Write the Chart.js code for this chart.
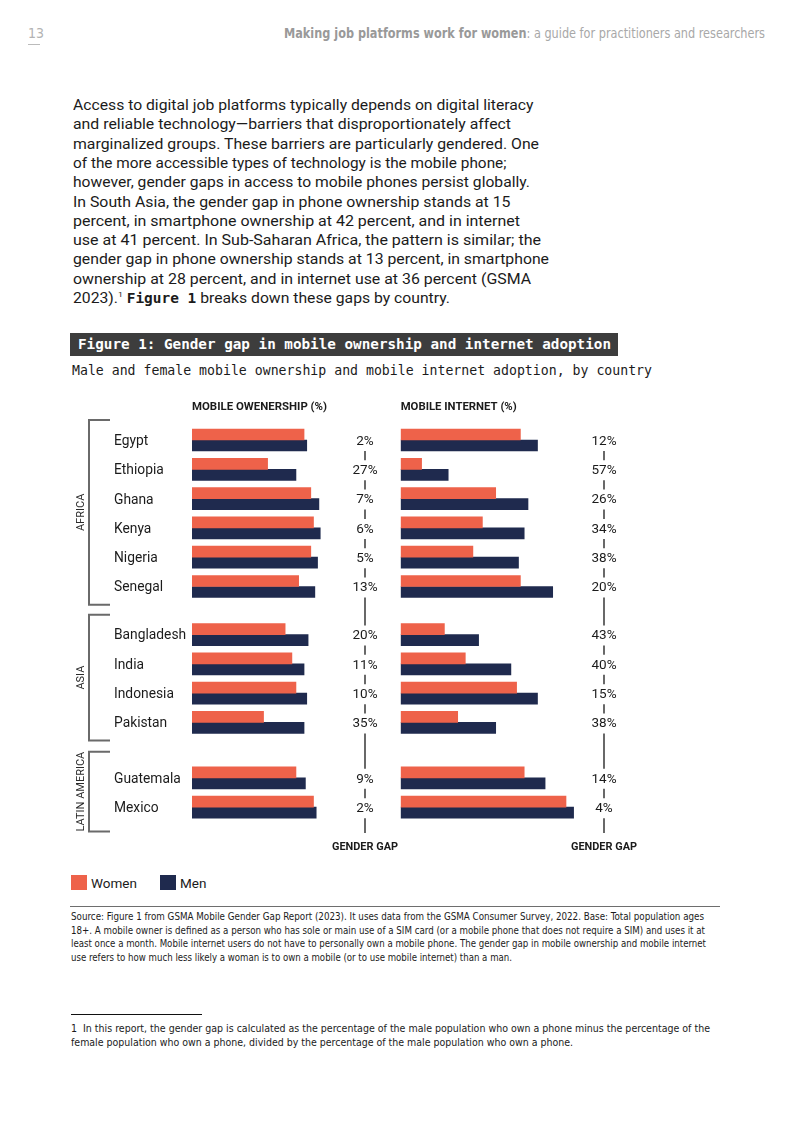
<!DOCTYPE html>
<html>
<head>
<meta charset="utf-8">
<title>Figure 1: Gender gap in mobile ownership and internet adoption</title>
<script src="https://cdn.jsdelivr.net/npm/chart.js@4.4.1/dist/chart.umd.min.js"></script>
<style>
html,body{margin:0;padding:0;background:#fff;}
#page{position:relative;width:793px;height:1121px;overflow:hidden;background:#fff;color:#1b1b1b;font-family:Roboto,"Noto Sans",sans-serif;}
.t{position:absolute;white-space:nowrap;transform-origin:0 50%;}
.cond{font-family:"Liberation Sans Narrow","DejaVu Sans Condensed","Roboto",sans-serif;font-stretch:condensed;}
.mono{font-family:"DejaVu Sans Mono","Liberation Mono",monospace;}
.body{left:72.5px;font-size:14.6px;line-height:20px;height:20px;color:#1b1b1b;}
.body b.mono{font-size:13.4px;}
.body sup{font-size:8px;vertical-align:6px;line-height:0;}
.src{left:71px;font-size:11px;line-height:14px;height:14px;color:#1b1b1b;}
canvas{position:absolute;}
.sw{position:absolute;width:16px;height:15px;}
</style>
</head>
<body>
<div id="page">
  <!-- header -->
  <div class="t cond" style="left:28px;top:24px;font-size:14px;line-height:18px;color:#b3b3b3;">13</div>
  <div style="position:absolute;left:28px;top:44px;width:12px;height:1px;background:#bbb;"></div>
  <div class="t cond" data-w="481" style="left:284px;top:24px;font-size:14px;line-height:18px;color:#a8a8a8;"><b style="color:#999;">Making job platforms work for women</b>: a guide for practitioners and researchers</div>

  <!-- body text -->
  <div class="t body" data-w="460.5" style="top:95px;">Access to digital job platforms typically depends on digital literacy</div>
  <div class="t body" data-w="438" style="top:114.3px;">and reliable technology—barriers that disproportionately affect</div>
  <div class="t body" data-w="466" style="top:133.6px;">marginalized groups. These barriers are particularly gendered. One</div>
  <div class="t body" data-w="433.5" style="top:152.9px;">of the more accessible types of technology is the mobile phone;</div>
  <div class="t body" data-w="457" style="top:172.2px;">however, gender gaps in access to mobile phones persist globally.</div>
  <div class="t body" data-w="437.5" style="top:191.5px;">In South Asia, the gender gap in phone ownership stands at 15</div>
  <div class="t body" data-w="447" style="top:210.8px;">percent, in smartphone ownership at 42 percent, and in internet</div>
  <div class="t body" data-w="468" style="top:230.1px;">use at 41 percent. In Sub-Saharan Africa, the pattern is similar; the</div>
  <div class="t body" data-w="476" style="top:249.4px;">gender gap in phone ownership stands at 13 percent, in smartphone</div>
  <div class="t body" data-w="458" style="top:268.7px;">ownership at 28 percent, and in internet use at 36 percent (GSMA</div>
  <div class="t body" data-w="377" style="top:288px;">2023).<sup>1</sup> <b class="mono">Figure 1</b> breaks down these gaps by country.</div>

  <!-- figure title -->
  <div style="position:absolute;left:70px;top:333px;width:548px;height:23px;background:#3d3d3d;"></div>
  <div class="t mono" data-w="533" style="left:78px;top:333px;height:23px;line-height:23px;font-size:14.3px;font-weight:bold;color:#fff;">Figure 1: Gender gap in mobile ownership and internet adoption</div>
  <div class="t mono" data-w="580" style="left:72px;top:363px;height:16px;line-height:16px;font-size:13.2px;color:#1b1b1b;">Male and female mobile ownership and mobile internet adoption, by country</div>

  <!-- charts -->
  <canvas id="ownChart" width="350" height="465" style="left:60px;top:395px;"></canvas>
  <canvas id="netChart" width="275" height="465" style="left:390px;top:395px;"></canvas>

  <!-- legend -->
  <div class="sw" id="swW" style="left:71px;top:875px;"></div>
  <div class="t" id="lgW" style="left:91px;top:874px;font-size:13.5px;line-height:18px;"></div>
  <div class="sw" id="swM" style="left:160px;top:875px;"></div>
  <div class="t" id="lgM" style="left:180px;top:874px;font-size:13.5px;line-height:18px;"></div>

  <!-- source -->
  <div style="position:absolute;left:70px;top:905.5px;width:650px;height:1.5px;background:#6e6e6e;"></div>
  <div class="t src cond" data-w="633" style="top:910px;">Source: Figure 1 from GSMA Mobile Gender Gap Report (2023). It uses data from the GSMA Consumer Survey, 2022. Base: Total population ages</div>
  <div class="t src cond" data-w="634" style="top:923.5px;">18+. A mobile owner is defined as a person who has sole or main use of a SIM card (or a mobile phone that does not require a SIM) and uses it at</div>
  <div class="t src cond" data-w="635" style="top:937px;">least once a month. Mobile internet users do not have to personally own a mobile phone. The gender gap in mobile ownership and mobile internet</div>
  <div class="t src cond" data-w="441" style="top:950.5px;">use refers to how much less likely a woman is to own a mobile (or to use mobile internet) than a man.</div>

  <!-- footnote -->
  <div style="position:absolute;left:71px;top:1013.5px;width:131px;height:1.5px;background:#111;"></div>
  <div class="t src cond" data-w="639" style="top:1022px;">1&nbsp; In this report, the gender gap is calculated as the percentage of the male population who own a phone minus the percentage of the</div>
  <div class="t src cond" data-w="502" style="top:1035.5px;">female population who own a phone, divided by the percentage of the male population who own a phone.</div>
</div>

<script>
// ---------------- DATA ----------------
const countries = ['Egypt','Ethiopia','Ghana','Kenya','Nigeria','Senegal','Bangladesh','India','Indonesia','Pakistan','Guatemala','Mexico'];
const countryRegion = ['AFRICA','AFRICA','AFRICA','AFRICA','AFRICA','AFRICA','ASIA','ASIA','ASIA','ASIA','LATIN AMERICA','LATIN AMERICA'];
const regionNames = ['AFRICA','ASIA','LATIN AMERICA'];
const seriesNames = ['Women','Men'];
const ownershipWomen = [83,56,88,90,88,79,69,74,77,53,77,90];
const ownershipMen   = [85,77,94,95,93,91,86,83,85,83,84,92];
const internetWomen  = [63,11,50,43,38,63,23,34,61,30,65,87];
const internetMen    = [72,25,67,65,62,80,41,58,72,50,76,91];
const ownershipGap   = [2,27,7,6,5,13,20,11,10,35,9,2];
const internetGap    = [12,57,26,34,38,20,43,40,15,38,14,4];
const panelTitles = ['MOBILE OWENERSHIP (%)','MOBILE INTERNET (%)'];
const gapTitle = 'GENDER GAP';

// ---------------- LAYOUT / STYLE ----------------
const WOMEN_COLOR = '#EE624A';
const MEN_COLOR = '#1F2A4E';
const TEXT = '#1b1b1b';
const PITCH = 29.3;                 // px per row
const REGION_GAP = [0, 0.64, 0.89]; // extra space before each region (rows)
const CANVAS_TOP = 395, CANVAS_H = 465;
const FIRST_ROW_Y = 440 - CANVAS_TOP;

// row index positions derived from region grouping
const rowPos = [];
(function(){
  let p = 0;
  countries.forEach((c, i) => {
    if (i > 0) {
      p += 1;
      if (countryRegion[i] !== countryRegion[i-1]) p += REGION_GAP[regionNames.indexOf(countryRegion[i])];
    }
    rowPos.push(p);
  });
})();
const Y_MIN = -1, Y_MAX = rowPos[rowPos.length-1] + 1;
const PAD_TOP = FIRST_ROW_Y - PITCH * (0 - Y_MIN);
const PAD_BOTTOM = CANVAS_H - PAD_TOP - PITCH * (Y_MAX - Y_MIN);

function fillFit(ctx, text, x, y, w) {
  const m = ctx.measureText(text).width;
  ctx.save();
  ctx.translate(x, y);
  ctx.scale(w / m, 1);
  ctx.fillText(text, 0, 0);
  ctx.restore();
}

const overlayPlugin = {
  id: 'overlay',
  afterDraw(chart, args, o) {
    const ctx = chart.ctx, ys = chart.scales.y, area = chart.chartArea;
    const py = rowPos.map(v => ys.getPixelForValue(v));
    ctx.save();
    // panel heading
    ctx.fillStyle = TEXT;
    ctx.font = 'bold 11px Roboto';
    ctx.textAlign = 'left'; ctx.textBaseline = 'middle';
    fillFit(ctx, o.title, area.left, 407.5 - CANVAS_TOP, o.titleW);
    // gender gap column
    ctx.strokeStyle = '#2a2a2a'; ctx.lineWidth = 1.4;
    const h = 10;
    ctx.beginPath();
    for (let i = 0; i < py.length; i++) {
      const y1 = py[i] + h + 1;
      const y2 = (i < py.length - 1) ? py[i+1] - h + 1 : 833 - CANVAS_TOP;
      ctx.moveTo(o.gapX, y1); ctx.lineTo(o.gapX, y2);
    }
    ctx.stroke();
    ctx.font = '13.5px Roboto';
    ctx.textAlign = 'center';
    o.gaps.forEach((g, i) => ctx.fillText(g + '%', o.gapX, py[i] + 1.5));
    ctx.font = 'bold 11px Roboto';
    fillFit(ctx, gapTitle, o.gapX, 847.5 - CANVAS_TOP, 66);
    // region brackets
    if (o.brackets) {
      const bx = 29;
      ctx.font = '11px Roboto';
      regionNames.forEach(r => {
        const idx = countryRegion.map((cr, i) => cr === r ? i : -1).filter(i => i >= 0);
        let top = py[idx[0]] - 0.68 * PITCH;
        let bottom = py[idx[idx.length-1]] + 0.62 * PITCH;
        const w = ctx.measureText(r).width;
        if (bottom - top < w) { const e = (w - (bottom - top)) / 2; top -= e; bottom += e; }
        ctx.strokeStyle = '#6a6a6a'; ctx.lineWidth = 2;
        ctx.beginPath();
        ctx.moveTo(bx + 21, top); ctx.lineTo(bx, top); ctx.lineTo(bx, bottom); ctx.lineTo(bx + 21, bottom);
        ctx.stroke();
        ctx.save();
        ctx.translate(bx - 8, (top + bottom) / 2);
        ctx.rotate(-Math.PI / 2);
        ctx.fillStyle = '#2a2a2a';
        ctx.textAlign = 'center'; ctx.textBaseline = 'middle';
        ctx.fillText(r, 0, 0);
        ctx.restore();
      });
    }
    ctx.restore();
  }
};

function makeChart(id, women, men, o) {
  return new Chart(document.getElementById(id), {
    type: 'bar',
    data: {
      datasets: [
        { label: seriesNames[0], data: women.map((v, i) => ({ x: v, y: rowPos[i] })), backgroundColor: WOMEN_COLOR, borderWidth: 0, barThickness: 11 },
        { label: seriesNames[1], data: men.map((v, i) => ({ x: v, y: rowPos[i] })), backgroundColor: MEN_COLOR, borderWidth: 0, barThickness: 11 }
      ]
    },
    options: {
      indexAxis: 'y',
      responsive: false,
      animation: false,
      events: [],
      layout: { padding: { left: o.padLeft, right: o.padRight, top: PAD_TOP, bottom: PAD_BOTTOM } },
      plugins: {
        legend: { display: false },
        tooltip: { enabled: false },
        overlay: o
      },
      scales: {
        x: { type: 'linear', min: 0, max: 100, display: false },
        y: {
          type: 'linear', min: Y_MIN, max: Y_MAX, reverse: true, offset: false,
          display: o.showLabels,
          grid: { display: false }, border: { display: false },
          afterBuildTicks: s => { s.ticks = rowPos.map(v => ({ value: v })); },
          afterFit: s => { s.width = o.axisWidth; },
          ticks: {
            autoSkip: false, crossAlign: 'far', padding: 0, color: TEXT, labelOffset: 1.5,
            font: { family: 'Roboto', size: 13.8 },
            callback: (v, i) => countries[i]
          }
        }
      }
    },
    plugins: [overlayPlugin]
  });
}

makeChart('ownChart', ownershipWomen, ownershipMen, {
  padLeft: 54, padRight: 83, axisWidth: 78, showLabels: true,
  title: panelTitles[0], titleW: 135, gaps: ownershipGap, gapX: 305, brackets: true
});
makeChart('netChart', internetWomen, internetMen, {
  padLeft: 10.7, padRight: 74.3, axisWidth: 0, showLabels: false,
  title: panelTitles[1], titleW: 116, gaps: internetGap, gapX: 214, brackets: false
});

// legend (HTML)
document.getElementById('swW').style.background = WOMEN_COLOR;
document.getElementById('swM').style.background = MEN_COLOR;
document.getElementById('lgW').textContent = seriesNames[0];
document.getElementById('lgM').textContent = seriesNames[1];

// fit text lines to measured widths
function fitLines(){
  document.querySelectorAll('[data-w]').forEach(el => {
    el.style.transform = 'none';
    const w = el.getBoundingClientRect().width;
    const t = parseFloat(el.dataset.w);
    if (w > 0) el.style.transform = 'scaleX(' + (t / w) + ')';
  });
}
fitLines();
</script>
</body>
</html>
